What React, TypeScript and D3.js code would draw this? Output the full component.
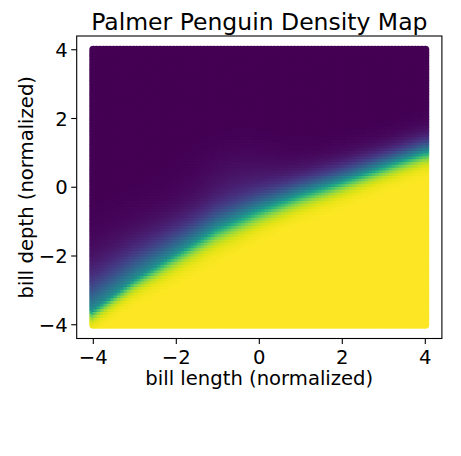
import React from "react";
import * as d3 from "d3";

// Boundary knots (bill length, normalized)
const knotX = [-4, -3, -2, -1, 0, 1, 2, 3, 4];
// bill depth where the map crosses 0.5
const boundaryY = [-3.52, -2.62, -1.87, -1.12, -0.59, -0.13, 0.26, 0.68, 1.1];
// spread of the transition above / below the boundary
const spreadUp = [0.55, 0.48, 0.42, 0.36, 0.3, 0.27, 0.25, 0.23, 0.22];
const spreadDown = [0.13, 0.15, 0.18, 0.2, 0.2, 0.18, 0.16, 0.15, 0.15];
// faint halo in the purple region
const haloCenter = [-0.3, 0.1];
const haloAmp = [0.04];
const haloSigma = [0.75];

const gridCount = 100;
const xTicks = [-4, -2, 0, 2, 4];
const yTicks = [-4, -2, 0, 2, 4];

const W = 461;
const H = 456;
const left = 76.7;
const right = 441.9;
const top = 36;
const bottom = 338.5;

export default function App() {
  const x = d3.scaleLinear().domain([-4.4, 4.4]).range([left, right]);
  const y = d3.scaleLinear().domain([-4.4, 4.4]).range([bottom, top]);
  const by = d3.scaleLinear().domain(knotX).range(boundaryY).clamp(true);
  const su = d3.scaleLinear().domain(knotX).range(spreadUp).clamp(true);
  const sd = d3.scaleLinear().domain(knotX).range(spreadDown).clamp(true);
  const grid = d3.range(gridCount).map((i) => -4 + (8 * i) / (gridCount - 1));

  const pts: { gx: number; gy: number; v: number }[] = [];
  for (const gy of grid) {
    for (const gx of grid) {
      const t = gy - by(gx);
      const w = t > 0 ? su(gx) : sd(gx);
      let v = 1 / (1 + Math.exp(t / w));
      const dx = gx - haloCenter[0];
      const dy = gy - haloCenter[1];
      v += haloAmp[0] * Math.exp(-(dx * dx + dy * dy) / (2 * haloSigma[0] * haloSigma[0]));
      v = Math.max(0, Math.min(1, v));
      pts.push({ gx, gy, v });
    }
  }

  const font = "DejaVu Sans, sans-serif";
  const fs = 19.6;
  const fmt = (d: number) => (d < 0 ? "\u2212" + Math.abs(d) : String(d));

  return (
    <svg width={W} height={H} style={{ display: "block", position: "absolute", left: 0, top: 0, background: "white" }}>
      <rect width={W} height={H} fill="white" />
      <g>
        {pts.map((p, i) => (
          <circle key={i} cx={x(p.gx)} cy={y(p.gy)} r={4} fill={d3.interpolateViridis(p.v)} />
        ))}
      </g>
      <rect x={left} y={top} width={right - left} height={bottom - top} fill="none" stroke="black" strokeWidth={1.1} />
      {xTicks.map((t) => (
        <g key={"x" + t}>
          <line x1={x(t)} x2={x(t)} y1={bottom} y2={bottom + 5.5} stroke="black" strokeWidth={1.1} />
          <text x={x(t)} y={364} textAnchor="middle" fontFamily={font} fontSize={fs} fill="black">
            {fmt(t)}
          </text>
        </g>
      ))}
      {yTicks.map((t) => (
        <g key={"y" + t}>
          <line x1={left - 5.5} x2={left} y1={y(t)} y2={y(t)} stroke="black" strokeWidth={1.1} />
          <text x={left - 9} y={y(t)} dy="0.36em" textAnchor="end" fontFamily={font} fontSize={fs} fill="black">
            {fmt(t)}
          </text>
        </g>
      ))}
      <text x={(left + right) / 2} y={385} textAnchor="middle" fontFamily={font} fontSize={fs} fill="black">
        bill length (normalized)
      </text>
      <text
        transform={`translate(33,${(top + bottom) / 2}) rotate(-90)`}
        textAnchor="middle"
        fontFamily={font}
        fontSize={fs}
        fill="black"
      >
        bill depth (normalized)
      </text>
      <text x={(left + right) / 2} y={30} textAnchor="middle" fontFamily={font} fontSize={23.5} fill="black">
        Palmer Penguin Density Map
      </text>
    </svg>
  );
}
